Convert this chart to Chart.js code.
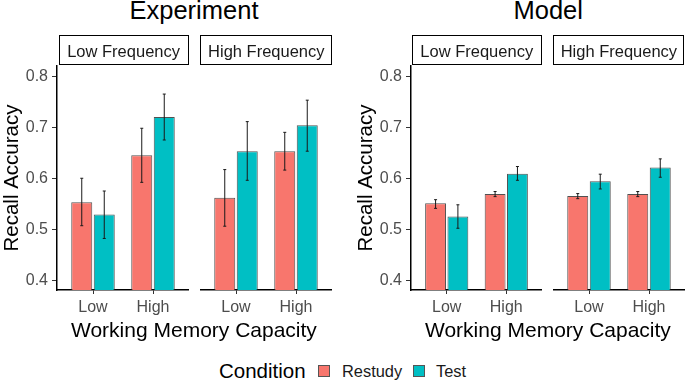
<!DOCTYPE html>
<html><head><meta charset="utf-8">
<script src="https://cdn.jsdelivr.net/npm/chart.js@4.4.1/dist/chart.umd.min.js"></script>
<style>
html,body{margin:0;padding:0;background:#fff;}
body{width:685px;height:380px;position:relative;overflow:hidden;font-family:"Liberation Sans",Arial,sans-serif;}
canvas{position:absolute;}
.t{position:absolute;white-space:nowrap;line-height:1;color:#000;}
.strip{position:absolute;box-sizing:border-box;border:1.5px solid #000;background:#fff;}
.strip span{position:absolute;left:0;right:0;text-align:center;font-size:16.5px;line-height:1;color:#1a1a1a;}
.sw{position:absolute;width:12px;height:12px;box-sizing:border-box;border:1px solid #555;}
</style></head><body>
<canvas id="e1" width="189" height="260" style="left:0;top:60px"></canvas>
<canvas id="e2" width="132" height="260" style="left:200px;top:60px"></canvas>
<canvas id="m1" width="188" height="260" style="left:354px;top:60px"></canvas>
<canvas id="m2" width="132" height="260" style="left:553px;top:60px"></canvas>
<script>
const panels = ['Experiment', 'Model'];
const facets = ['Low Frequency', 'High Frequency'];
const wmc = ['Low', 'High'];
const conditions = ['Restudy', 'Test'];
const yTicks = [0.4, 0.5, 0.6, 0.7, 0.8];
const axisTitleX = 'Working Memory Capacity';
const axisTitleY = 'Recall Accuracy';
const legendTitle = 'Condition';
// order of values: [LowFreq-Low, LowFreq-High, HighFreq-Low, HighFreq-High]
const expRestudy   = [0.554, 0.646, 0.563, 0.654];
const expRestudyLo = [0.508, 0.593, 0.507, 0.617];
const expRestudyHi = [0.601, 0.699, 0.618, 0.691];
const expTest      = [0.530, 0.721, 0.654, 0.705];
const expTestLo    = [0.483, 0.676, 0.597, 0.654];
const expTestHi    = [0.576, 0.766, 0.712, 0.754];
const modRestudy   = [0.552, 0.570, 0.566, 0.570];
const modRestudyLo = [0.542, 0.565, 0.561, 0.565];
const modRestudyHi = [0.559, 0.575, 0.571, 0.575];
const modTest      = [0.526, 0.610, 0.595, 0.622];
const modTestLo    = [0.503, 0.597, 0.580, 0.603];
const modTestHi    = [0.549, 0.624, 0.609, 0.639];

const colors = ['#F8766D', '#00BFC4'];

Chart.defaults.font.family = '"Liberation Sans", Arial, sans-serif';
Chart.defaults.animation = false;

const errPlugin = {
  id: 'err',
  afterDatasetsDraw(chart) {
    const ctx = chart.ctx, ys = chart.scales.y;
    chart.data.datasets.forEach((ds, di) => {
      const meta = chart.getDatasetMeta(di);
      meta.data.forEach((bar, j) => {
        const lo = ys.getPixelForValue(ds.lo[j]);
        const hi = ys.getPixelForValue(ds.hi[j]);
        ctx.save();
        ctx.strokeStyle = '#1a1a1a';
        ctx.lineWidth = 1;
        ctx.beginPath();
        ctx.moveTo(bar.x, lo); ctx.lineTo(bar.x, hi);
        ctx.moveTo(bar.x - 1.5, lo); ctx.lineTo(bar.x + 1.5, lo);
        ctx.moveTo(bar.x - 1.5, hi); ctx.lineTo(bar.x + 1.5, hi);
        ctx.stroke();
        ctx.restore();
      });
    });
  }
};

function pick(arr, f) { return wmc.map((c, i) => arr[f * 2 + i]); }
function noPad(s) { s.paddingTop = 0; s.paddingBottom = 0; s.paddingLeft = 0; s.paddingRight = 0; }

function makeChart(id, f, series, showY) {
  const datasets = series.map((s, k) => ({
    label: conditions[k],
    data: pick(s.v, f).map((v, i) => ({ x: i, y: v })),
    lo: pick(s.lo, f),
    hi: pick(s.hi, f),
    backgroundColor: colors[k],
    borderColor: 'rgba(50,50,50,0.85)',
    borderWidth: 1,
    borderSkipped: false,
    categoryPercentage: 0.75,
    barPercentage: 0.9333
  }));
  new Chart(document.getElementById(id), {
    type: 'bar',
    data: { datasets },
    options: {
      responsive: false,
      devicePixelRatio: 1,
      layout: { padding: { top: 6, left: 0, right: 0, bottom: 0 } },
      plugins: { legend: { display: false }, tooltip: { enabled: false } },
      scales: {
        x: {
          type: 'linear', min: -0.6, max: 1.6, offset: false,
          afterBuildTicks: s => { s.ticks = wmc.map((_, i) => ({ value: i })); },
          afterFit: s => { s.height = 30; noPad(s); },
          grid: { display: true, drawOnChartArea: false, drawTicks: true, tickLength: 4, tickColor: '#333', tickWidth: 1, offset: false },
          border: { display: true, color: '#000', width: 1.5 },
          ticks: { color: '#4d4d4d', font: { size: 16 }, padding: 4, maxRotation: 0, autoSkip: false, callback: v => wmc[v] }
        },
        y: {
          type: 'linear', min: 0.382, max: 0.821, display: showY,
          afterBuildTicks: s => { s.ticks = yTicks.map(v => ({ value: v })); },
          afterFit: s => { s.width = showY ? 57 : 0; noPad(s); },
          grid: { display: true, drawOnChartArea: false, drawTicks: true, tickLength: 5, tickColor: '#333', tickWidth: 1 },
          border: { display: true, color: '#000', width: 1.5 },
          ticks: { color: '#4d4d4d', font: { size: 16 }, padding: 4, callback: v => v.toFixed(1) },
          title: { display: true, text: axisTitleY, color: '#000', font: { size: 20.5 }, padding: { top: 0, bottom: 0 } }
        }
      }
    },
    plugins: [errPlugin]
  });
}

const expSeries = [
  { v: expRestudy, lo: expRestudyLo, hi: expRestudyHi },
  { v: expTest, lo: expTestLo, hi: expTestHi }
];
const modSeries = [
  { v: modRestudy, lo: modRestudyLo, hi: modRestudyHi },
  { v: modTest, lo: modTestLo, hi: modTestHi }
];
makeChart('e1', 0, expSeries, true);
makeChart('e2', 1, expSeries, false);
makeChart('m1', 0, modSeries, true);
makeChart('m2', 1, modSeries, false);

// text elements
function addText(txt, cls, style) {
  const d = document.createElement('div');
  d.className = cls; d.textContent = txt;
  Object.assign(d.style, style);
  document.body.appendChild(d);
  return d;
}
function centerText(txt, cx, top, size) {
  const d = addText(txt, 't', { top: top + 'px', fontSize: size + 'px', left: '0px' });
  d.style.left = (cx - d.offsetWidth / 2) + 'px';
}
centerText(panels[0], 194, -2.5, 25.5);
centerText(panels[1], 548, -2.5, 25.5);
centerText(axisTitleX, 194, 319, 21);
centerText(axisTitleX, 548, 319, 21);

const strips = [[58.5, 188.7], [200.3, 332.3], [411.5, 542], [553.3, 684.5]];
strips.forEach((s, i) => {
  const d = document.createElement('div');
  d.className = 'strip';
  Object.assign(d.style, { left: s[0] + 'px', top: '34.5px', width: (s[1] - s[0]) + 'px', height: '30.5px' });
  const sp = document.createElement('span');
  sp.textContent = facets[i % 2];
  sp.style.top = '7px';
  d.appendChild(sp);
  document.body.appendChild(d);
});

// legend
addText(legendTitle, 't', { left: '219px', top: '360.5px', fontSize: '20.5px' });
const swX = [318, 413], lbX = [342, 436];
conditions.forEach((c, k) => {
  const sw = document.createElement('div');
  sw.className = 'sw';
  Object.assign(sw.style, { left: swX[k] + 'px', top: '365px', background: colors[k] });
  document.body.appendChild(sw);
  addText(c, 't', { left: lbX[k] + 'px', top: '362.5px', fontSize: '16.4px', color: '#1a1a1a' });
});
</script>
</body></html>
